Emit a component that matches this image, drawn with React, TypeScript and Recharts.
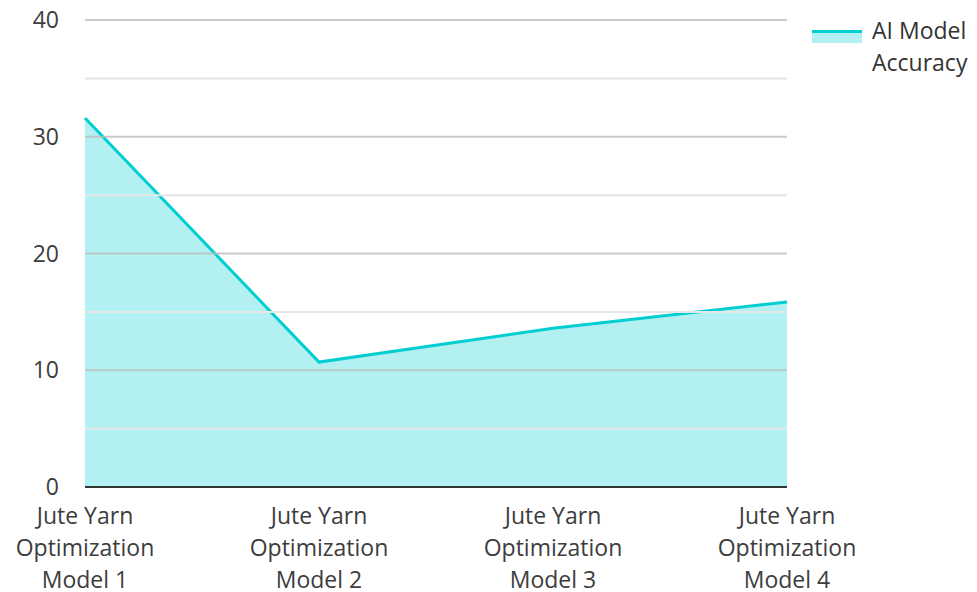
import {
  ComposedChart,
  Area,
  XAxis,
  YAxis,
  ReferenceLine,
} from "recharts";

const MODELS = [
  "Jute Yarn Optimization Model 1",
  "Jute Yarn Optimization Model 2",
  "Jute Yarn Optimization Model 3",
  "Jute Yarn Optimization Model 4",
];
const ACCURACY = [31.6, 10.7, 13.6, 15.85];
const Y_TICKS = [0, 10, 20, 30, 40];
const MINOR_LINES = [5, 15, 25, 35];
const MAJOR_LINES = [10, 20, 30, 40];
const SERIES_NAME = "AI Model Accuracy";

const COLOR = "#00CED1";
const FONT = "'Open Sans', 'Noto Sans', sans-serif";
const FS = 23;

const chartData = MODELS.map((m, i) => ({ name: m, value: ACCURACY[i] }));

// splits "Jute Yarn Optimization Model 1" into three rows like the original
function XTick(props: any) {
  const { x, y, payload } = props;
  const words = String(payload.value).split(" ");
  const lines = [words.slice(0, 2).join(" "), words[2], words.slice(3).join(" ")];
  return (
    <text x={x} y={y} textAnchor="middle" fill="#3d3d3d" fontSize={FS} fontFamily={FONT}>
      {lines.map((l, i) => (
        <tspan key={i} x={x} dy={i === 0 ? 29 : 32}>
          {l}
        </tspan>
      ))}
    </text>
  );
}

function LegendBox() {
  return (
    <div
      style={{
        position: "absolute",
        left: 812,
        top: 14,
        display: "flex",
        fontFamily: FONT,
        fontSize: FS,
        color: "#333",
      }}
    >
      <svg width={50} height={30} style={{ marginTop: 10, flexShrink: 0 }}>
        <rect x={0} y={8} width={50} height={11} fill={COLOR} fillOpacity={0.3} />
        <line x1={0} x2={50} y1={7.5} y2={7.5} stroke={COLOR} strokeWidth={3} />
      </svg>
      <div style={{ marginLeft: 10, lineHeight: "32px", width: 105 }}>{SERIES_NAME}</div>
    </div>
  );
}

export default function App() {
  return (
    <div style={{ position: "absolute", left: 0, top: 0, width: 977, height: 592, background: "#fff" }}>
      <ComposedChart
        width={977}
        height={592}
        data={chartData}
        margin={{ top: 20, right: 190, bottom: 0, left: 0 }}
      >
        {MINOR_LINES.map((v) => (
          <ReferenceLine key={"m" + v} y={v} stroke="#e6e6e6" strokeWidth={2} />
        ))}
        <Area
          type="linear"
          dataKey="value"
          name={SERIES_NAME}
          stroke={COLOR}
          strokeWidth={3}
          fill={COLOR}
          fillOpacity={0.3}
          isAnimationActive={false}
          dot={false}
          activeDot={false}
        />
        {MAJOR_LINES.map((v) => (
          <ReferenceLine key={"M" + v} y={v} stroke="#bdbdbd" strokeOpacity={0.8} strokeWidth={2} />
        ))}
        <XAxis
          dataKey="name"
          interval={0}
          height={105}
          tick={<XTick />}
          tickLine={false}
          axisLine={{ stroke: "#333", strokeWidth: 2 }}
        />
        <YAxis
          width={85}
          domain={[0, 40]}
          ticks={Y_TICKS}
          axisLine={false}
          tickLine={false}
          tickMargin={20}
          tick={{ fill: "#3d3d3d", fontSize: FS, fontFamily: FONT }}
        />
      </ComposedChart>
      <LegendBox />
    </div>
  );
}
